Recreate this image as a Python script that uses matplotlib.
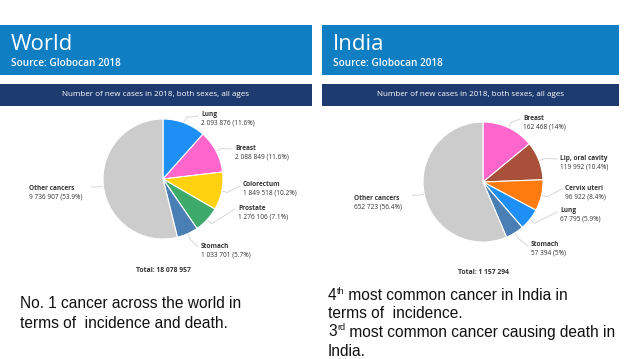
import numpy as np
import matplotlib.pyplot as plt
from matplotlib.patches import Rectangle

W, H = 638, 359

# data
world_sites = ["Lung", "Breast", "Colorectum", "Prostate", "Stomach", "Other cancers"]
world_cases = [2093876, 2088849, 1849518, 1276106, 1033701, 9736907]
world_pct = ["11.6%", "11.6%", "10.2%", "7.1%", "5.7%", "53.9%"]
world_colors = ["#1E90F5", "#FF66CC", "#FFD10F", "#3DAA6A", "#4A7FB5", "#CCCCCC"]

india_sites = ["Breast", "Lip, oral cavity", "Cervix uteri", "Lung", "Stomach", "Other cancers"]
india_cases = [162468, 119992, 96922, 67795, 57394, 652723]
india_pct = ["14%", "10.4%", "8.4%", "5.9%", "5%", "56.4%"]
india_colors = ["#FF66CC", "#A8503A", "#FF7B0F", "#1E90F5", "#4A7FB5", "#CCCCCC"]

# layout (pixels): pie centre/radius and label anchors
world_pie = (163, 179, 60)
india_pie = (483, 182, 60)
world_label_xy = [(201, 115), (235, 148), (243, 185), (238, 208), (201, 246), (29, 189)]
india_label_xy = [(523, 118), (560, 158), (565, 188), (560, 211), (531, 245), (354, 198)]

HEADER_BLUE = "#0F7EC3"
NAVY = "#1E3B6F"
LABEL_FONT = "Open Sans"


def fmt(n):
    return f"{n:,}".replace(",", " ")


def draw_panel(ax0, fig, x0, x1, title, sites, cases, pct, colors, pie, label_xy):
    # header boxes
    ax0.add_patch(Rectangle((x0, 25), x1 - x0, 50, color=HEADER_BLUE, lw=0))
    ax0.add_patch(Rectangle((x0, 84), x1 - x0, 22, color=NAVY, lw=0))
    ax0.text(x0 + 11, 44, title, color="white", fontsize=16, family=LABEL_FONT,
             va="center", ha="left")
    ax0.text(x0 + 11, 64, "Source: Globocan 2018", color="white", fontsize=7.2,
             family=LABEL_FONT, va="center", ha="left", fontweight="semibold")
    ax0.text((x0 + x1) / 2, 95, "Number of new cases in 2018, both sexes, all ages",
             color="white", fontsize=5.8, family=LABEL_FONT, va="center", ha="center")

    cx, cy, r = pie
    ax = fig.add_axes([(cx - r) / W, 1 - (cy + r) / H, 2 * r / W, 2 * r / H])
    ax.pie(cases, colors=colors, startangle=90, counterclock=False,
           wedgeprops=dict(edgecolor="white", linewidth=0.8))
    ax.set_xlim(-1, 1)
    ax.set_ylim(-1, 1)
    ax.axis("off")

    total = sum(cases)
    cum = np.cumsum([0] + list(cases[:-1]))
    for site, n, p, c0, (lx, ly) in zip(sites, cases, pct, cum, label_xy):
        theta = np.radians(90 - 360 * (c0 + n / 2) / total)
        ex, ey = cx + r * np.cos(theta), cy - r * np.sin(theta)
        bx, by = cx + r * 1.1 * np.cos(theta), cy - r * 1.1 * np.sin(theta)
        if lx > cx:
            end = (lx - 3, ly + 1)
        else:
            end = (bx - 6, by)
        ax0.plot([ex, bx, end[0]], [ey, by, end[1]], color="#D0D0D0", lw=0.6)
        ax0.text(lx, ly, site, fontsize=4.7, fontweight="bold", color="#333333",
                 family=LABEL_FONT, va="center", ha="left")
        ax0.text(lx, ly + 8.5, f"{fmt(n)} ({p})", fontsize=4.7, color="#333333",
                 family=LABEL_FONT, va="center", ha="left")

    ax0.text(cx, cy + 91, f"Total: {fmt(total)}", fontsize=4.9, fontweight="bold",
             color="#333333", family=LABEL_FONT, va="center", ha="center")


fig = plt.figure(figsize=(W / 100, H / 100), dpi=100)
ax0 = fig.add_axes([0, 0, 1, 1])
ax0.set_xlim(0, W)
ax0.set_ylim(H, 0)
ax0.axis("off")

draw_panel(ax0, fig, 0, 312, "World", world_sites, world_cases, world_pct,
           world_colors, world_pie, world_label_xy)
draw_panel(ax0, fig, 322, 619, "India", india_sites, india_cases, india_pct,
           india_colors, india_pie, india_label_xy)

body = dict(fontsize=11.2, family="Liberation Sans", color="#111111", va="center", ha="left")
renderer = fig.canvas.get_renderer()


def sup_line(x, y, base, sup, rest):
    # base text, small raised suffix, then the rest of the line
    t = ax0.text(x, y, base, **body)
    x2 = x + t.get_window_extent(renderer).width + 0.3
    s = ax0.text(x2, y - 4, sup, fontsize=6.5, family="Liberation Sans",
                 color="#111111", va="center", ha="left")
    x3 = x2 + s.get_window_extent(renderer).width
    ax0.text(x3, y, rest, **body)


ax0.text(20, 303, "No. 1 cancer across the world in", **body)
ax0.text(20, 324, "terms of  incidence and death.", **body)
sup_line(328, 295, "4", "th", " most common cancer in India in")
ax0.text(328, 314, "terms of  incidence.", **body)
sup_line(328, 332, "3", "rd", " most common cancer causing death in")
ax0.text(328, 351, "India.", **body)

fig.savefig("out.png", dpi=100)
